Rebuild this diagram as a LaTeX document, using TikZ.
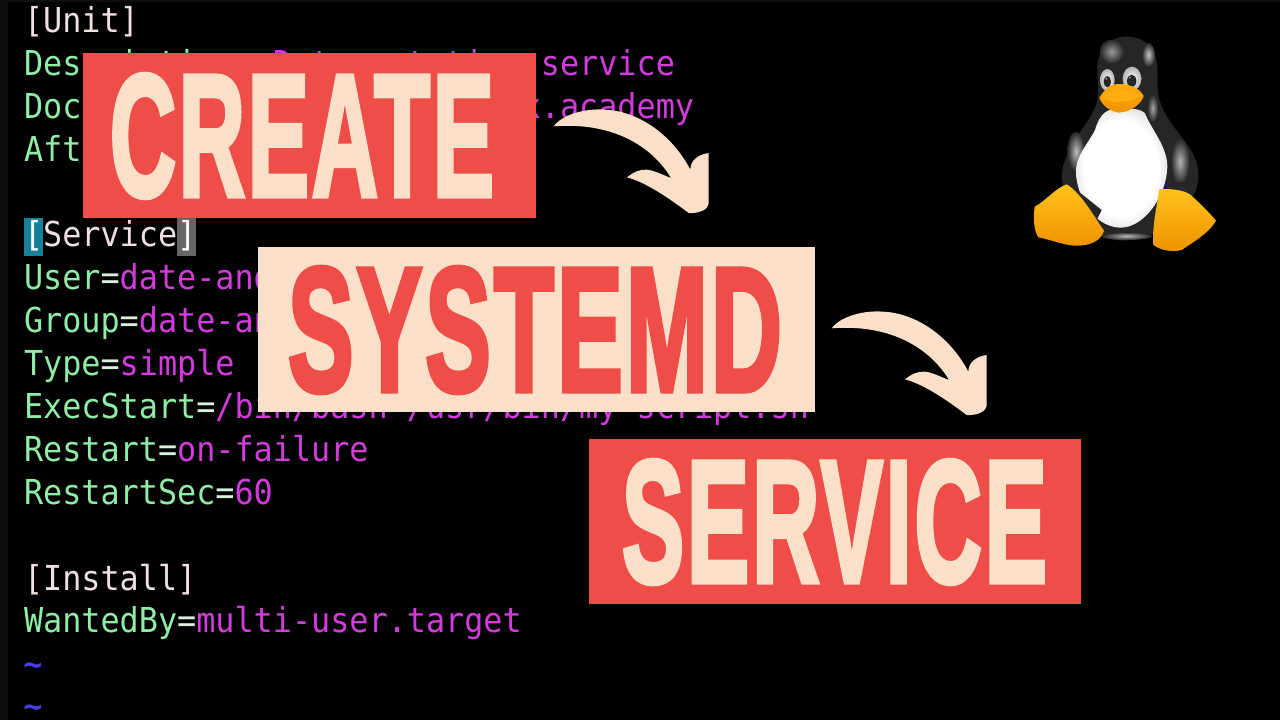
\documentclass[tikz,border=0pt]{standalone}
\usepackage{fontspec}
\usepackage{graphicx}
\usetikzlibrary{shadings}
\newfontfamily\codefont{DejaVu Sans Mono}
\newfontfamily\heavyfont[UprightFont={* Bold},FakeBold=3.2,LetterSpace=3]{Liberation Sans}
\definecolor{bgblack}{HTML}{000000}
\definecolor{stripgray}{HTML}{0E0E0E}
\definecolor{keyg}{HTML}{8FEDA6}
\definecolor{eqc}{HTML}{D8F0DC}
\definecolor{valm}{HTML}{D23CDD}
\definecolor{headc}{HTML}{EFE0E2}
\definecolor{tildec}{HTML}{4A3FE6}
\definecolor{tealc}{HTML}{17809A}
\definecolor{grayc}{HTML}{666666}
\definecolor{redc}{HTML}{EF4E48}
\definecolor{creamc}{HTML}{FAE0C8}
\definecolor{tuxbody}{HTML}{262626}
\definecolor{foota}{HTML}{FFC21A}
\definecolor{footb}{HTML}{FFAC0F}
\definecolor{footc}{HTML}{F09200}
\pgfdeclareradialshading{bellyshade}{\pgfpoint{0bp}{0bp}}{
  color(0bp)=(white); color(20bp)=(white); color(28bp)=(black!14); color(34bp)=(black!40); color(50bp)=(black!60)}
\newcommand{\kv}[2]{\textcolor{keyg}{#1}\textcolor{eqc}{=}\textcolor{valm}{#2}}
\newcommand{\fitted}[3]{\resizebox*{#1pt}{#2pt}{\heavyfont #3}}
\newcommand{\arrowshape}{(35,85) .. controls (60,50) and (130,30) .. (190,35)
  .. controls (290,40) and (390,110) .. (445,215)
  .. controls (445,190) and (465,170) .. (500,165)
  -- (500,318) .. controls (498,335) and (470,347) .. (440,345)
  .. controls (400,315) and (320,255) .. (255,238)
  .. controls (275,222) and (295,213) .. (315,215)
  .. controls (340,218) and (365,232) .. (387,240)
  .. controls (340,160) and (230,70) .. (35,85) -- cycle}
\tikzset{
  codeline/.style={anchor=base west,inner sep=0pt,outer sep=0pt,yscale=1.08,transform shape,
    font=\codefont\fontsize{31.8}{36}\selectfont},
  tildeline/.style={anchor=center,inner sep=0pt,outer sep=0pt,
    font=\codefont\bfseries\fontsize{31.8}{36}\selectfont},
  box/.style={anchor=north west,inner sep=0pt,outer sep=0pt,draw=none},
  redbox/.style={box,fill=redc},
  creambox/.style={box,fill=creamc},
  title/.style={inner sep=0pt,outer sep=0pt},
  curvearrow/.style={fill=creamc,draw=none},
  foot/.style={shading=axis,shading angle=#1,top color=foota,middle color=footb,bottom color=footc,draw=none},
}
\begin{document}
\begin{tikzpicture}[x=1pt,y=-1pt]
\useasboundingbox (0,0) rectangle (1280,720);
\fill[bgblack] (0,0) rectangle (1280,720);
\fill[stripgray] (0,0) rectangle (8,720);
\fill[stripgray] (0,0) rectangle (1280,2);
% highlight cells behind [Service]
\fill[tealc] (24,218) rectangle (43,256);
\fill[grayc] (177,218) rectangle (196,256);
% code text
\node[codeline] (l0) at (24,32) {\textcolor{headc}{[Unit]}};
\node[codeline] (l1) at (24,75) {\textcolor{keyg}{Description}\textcolor{eqc}{=}\textcolor{valm}{\ Data rotation service}};
\node[codeline] (l2) at (24,118) {\kv{Documentation}{https://linux.academy}};
\node[codeline] (l3) at (24,161) {\textcolor{keyg}{Aft}};
\node[codeline] (l5) at (24,246) {\textcolor{white}{[}\textcolor{headc}{Service}\textcolor{white}{]}};
\node[codeline] (l6) at (24,289) {\kv{User}{date-and}};
\node[codeline] (l7) at (24,332) {\kv{Group}{date-and}};
\node[codeline] (l8) at (24,375) {\kv{Type}{simple}};
\node[codeline] (l9) at (24,418) {\kv{ExecStart}{/bin/bash /usr/bin/my-script.sh}};
\node[codeline] (l10) at (24,461) {\kv{Restart}{on-failure}};
\node[codeline] (l11) at (24,504) {\kv{RestartSec}{60}};
\node[codeline] (l13) at (24,590) {\textcolor{headc}{[Install]}};
\node[codeline] (l14) at (24,632) {\kv{WantedBy}{multi-user.target}};
\node[tildeline] (l15) at (33,669) {\textcolor{tildec}{\char`\~}};
\node[tildeline] (l16) at (33,711) {\textcolor{tildec}{\char`\~}};
% title boxes
\node[redbox,minimum width=453pt,minimum height=165pt] (createbox) at (83,53) {};
\node[title] (createtext) at (302,136) {\textcolor{creamc}{\fitted{384}{123}{CREATE}}};
\node[creambox,minimum width=557pt,minimum height=165pt] (systemdbox) at (258,247) {};
\node[title] (systemdtext) at (535,330) {\textcolor{redc}{\fitted{494}{125}{SYSTEMD}}};
\node[redbox,minimum width=492pt,minimum height=165pt] (servicebox) at (589,439) {};
\node[title] (servicetext) at (834.5,522) {\textcolor{creamc}{\fitted{425}{123}{SERVICE}}};
% arrows
\begin{scope}[shift={(820,300)},scale=1/3]
\fill[curvearrow] \arrowshape;
\end{scope}
\begin{scope}[shift={(542,98)},scale=1/3]
\fill[curvearrow] \arrowshape;
\end{scope}
% penguin
\begin{scope}[shift={(1020,30)},scale=1/3]
% body
\fill[tuxbody] (320,20) .. controls (265,20) and (232,60) .. (232,115)
  .. controls (232,160) and (240,190) .. (228,225)
  .. controls (205,290) and (130,350) .. (125,440)
  .. controls (125,480) and (160,560) .. (215,600)
  .. controls (260,640) and (340,640) .. (400,610)
  .. controls (470,590) and (540,500) .. (535,430)
  .. controls (530,350) and (470,320) .. (430,240)
  .. controls (405,190) and (415,150) .. (412,110)
  .. controls (408,55) and (375,20) .. (320,20) -- cycle;
% soft highlights
\shade[inner color=gray!80,outer color=tuxbody] (275,65) ellipse (36 and 36);
\shade[inner color=gray!45,outer color=tuxbody] (385,75) ellipse (20 and 36);
\shade[inner color=gray!70,outer color=tuxbody] (398,235) ellipse (16 and 42);
\shade[inner color=gray!60,outer color=tuxbody] (480,395) ellipse (28 and 70);
\shade[inner color=gray!50,outer color=tuxbody] (168,365) ellipse (26 and 60);
\shade[inner color=gray!55,outer color=tuxbody] (320,618) ellipse (76 and 12);
% belly
\shade[shading=bellyshade]
  (300,235) .. controls (260,235) and (240,250) .. (225,300)
  .. controls (205,340) and (165,380) .. (168,430)
  .. controls (170,490) and (215,590) .. (300,593)
  .. controls (370,595) and (440,500) .. (442,410)
  .. controls (442,350) and (395,300) .. (375,250)
  .. controls (360,235) and (330,235) .. (300,235) -- cycle;
\fill[tuxbody] (170,480) -- (245,540) -- (230,570) -- (190,530) -- cycle;
\fill[tuxbody] (440,470) .. controls (460,450) and (510,450) .. (530,480) -- (500,500) -- (430,490) -- cycle;
% eyes
\shade[inner color=white,outer color=gray!60] (262,150) ellipse (22 and 33);
\shade[inner color=white,outer color=gray!60] (336,146) ellipse (28 and 36);
\fill[black!85!white] (262,155) ellipse (11 and 17);
\fill[black!85!white] (335,153) ellipse (14 and 19);
\fill[gray!70] (259,146) circle (3);
\fill[gray!70] (330,143) circle (3);
% beak
\shade[top color=footb,bottom color=footc]
  (238,203) .. controls (250,185) and (265,163) .. (295,162)
  .. controls (325,160) and (360,175) .. (371,198)
  .. controls (365,220) and (335,245) .. (297,248)
  .. controls (270,245) and (245,225) .. (238,203) -- cycle;
\shade[top color=foota!70!orange,bottom color=footb]
  (245,203) .. controls (270,175) and (330,170) .. (362,197)
  .. controls (335,215) and (280,225) .. (245,203) -- cycle;
% feet
\shade[foot=20]
  (44,530) .. controls (75,515) and (105,475) .. (140,463)
  .. controls (185,490) and (225,565) .. (252,602)
  .. controls (245,625) and (225,640) .. (195,645)
  .. controls (150,655) and (100,630) .. (55,622)
  .. controls (40,600) and (40,560) .. (44,530) -- cycle;
\shade[foot=-20]
  (418,478) .. controls (450,475) and (490,480) .. (510,493)
  .. controls (540,520) and (570,550) .. (588,572)
  .. controls (570,605) and (530,630) .. (485,660)
  .. controls (455,668) and (420,660) .. (400,645)
  .. controls (395,600) and (410,530) .. (418,478) -- cycle;
\end{scope}
\end{tikzpicture}
\end{document}
